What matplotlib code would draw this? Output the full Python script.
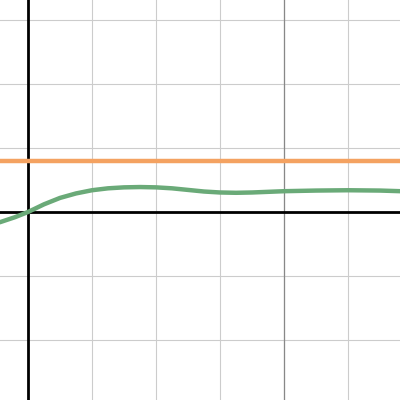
import matplotlib
matplotlib.use("Agg")
import matplotlib.pyplot as plt

curve_x = [-0.44, -0.2, 0.0, 0.25, 0.5, 0.75, 1.0, 1.25, 1.5, 1.75, 2.0, 2.25, 2.5, 2.75, 3.0, 3.25, 3.5, 3.75, 4.0, 4.5, 5.0, 5.5, 5.82]
curve_y = [-0.16, -0.08, 0.0, 0.12, 0.22, 0.29, 0.34, 0.37, 0.385, 0.39, 0.385, 0.37, 0.345, 0.32, 0.305, 0.30, 0.305, 0.315, 0.325, 0.335, 0.34, 0.335, 0.325]
level = 0.8

fig = plt.figure(figsize=(4, 4), dpi=100)
ax = fig.add_axes([0, 0, 1, 1])
ax.set_xlim(-0.4375, 5.8125)
ax.set_ylim(-2.9375, 3.3125)
for gx in range(0, 6):
    ax.axvline(gx, color="#cccccc", lw=0.8, zorder=0)
for gy in range(-2, 4):
    ax.axhline(gy, color="#cccccc", lw=0.8, zorder=0)
ax.axvline(4, color="#888888", lw=0.9, zorder=0)
ax.axhline(0, color="black", lw=2, zorder=1)
ax.axvline(0, color="black", lw=2, zorder=1)
ax.axhline(level, color="#f4a261", lw=3.2, zorder=2)
ax.plot(curve_x, curve_y, color="#6aaa78", lw=3.2, zorder=3, solid_capstyle="round")
ax.axis("off")
fig.savefig("out.png", dpi=100)
